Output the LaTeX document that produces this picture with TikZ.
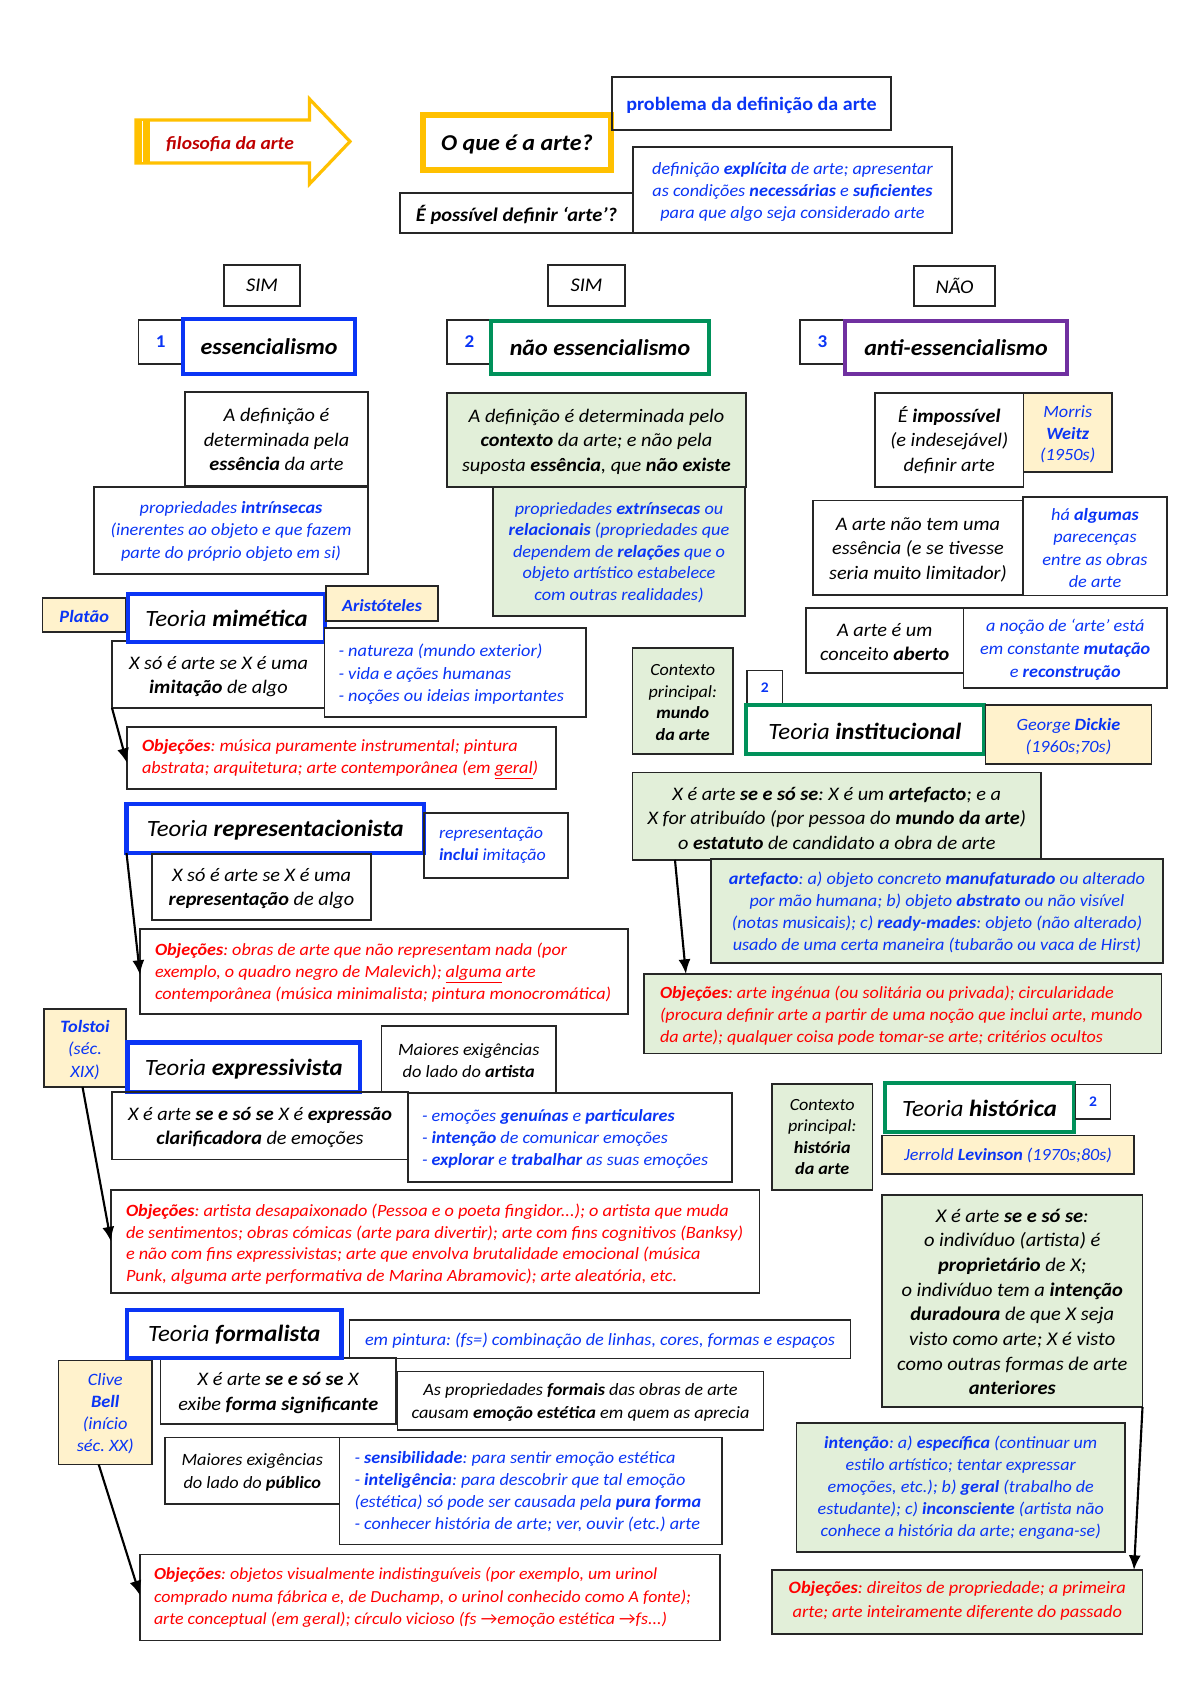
\documentclass[tikz,border=0pt]{standalone}
\usepackage{fontspec}
\setmainfont{Carlito}[FakeStretch=1.06]
\newfontfamily\arrfont{DejaVu Sans}
\usetikzlibrary{arrows.meta,calc}
\definecolor{bl}{HTML}{0A35F5}
\definecolor{rd}{HTML}{FF0000}
\definecolor{gf}{HTML}{E2EFD9}
\definecolor{cf}{HTML}{FFF2CC}
\definecolor{orng}{HTML}{FFC000}
\definecolor{grn}{HTML}{00915A}
\definecolor{purp}{HTML}{7030A0}
\definecolor{ln}{HTML}{262626}
\frenchspacing
\newcommand\bb[1]{\textbf{#1}}
\newcommand\fs[2]{\fontsize{#1}{#2}\selectfont\itshape}
\newcommand\bx[7]{\def\tdyv{1.4}\node[boxs,#6,minimum width={(#4-#2)*0.75pt},minimum height={(#5-#3)*0.75pt}] (#1) at ({(#2+#4)/2},{-(#3+#5)/2}) {};
\node[boxs,#6,draw=none,fill=none,yshift=-\tdyv pt] (#1-t) at (#1.center) {#7};}
\newcommand\bxl[8]{\def\tdyv{1.4}\node[boxs,#6,minimum width={(#4-#2)*0.75pt},minimum height={(#5-#3)*0.75pt}] (#1) at ({(#2+#4)/2},{-(#3+#5)/2}) {};
\node[boxs,#6,draw=none,fill=none,align=left,anchor=west,yshift=-\tdyv pt] (#1-t) at ({#2+#8},{-(#3+#5)/2}) {#7};}
\tikzset{
 x=0.75pt,y=0.75pt,
 tdy/.code={\def\tdyv{#1}},
 boxs/.style={draw=ln,line width=0.9pt,inner sep=0pt,outer sep=0pt,align=center,text=black,font=\fs{14.35}{18.3}},
 gr/.style={fill=gf},
 cr/.style={fill=cf},
 wh/.style={fill=white},
 blt/.style={text=bl},
 rdt/.style={text=rd},
 sm/.style={font=\fs{12.9}{17}},
 sm2/.style={font=\fs{12.9}{16.2}},
 ttl/.style={font=\fs{17.5}{22},fill=white},
 tbl/.style={draw=bl,line width=3.6pt,ttl},
 tgr/.style={draw=grn,line width=3pt,ttl},
 tpr/.style={draw=purp,line width=3.6pt,ttl},
 arr/.style={draw=black,line width=1.6pt,-{Latex[length=11pt,width=9pt]}},
}
\begin{document}
\begin{tikzpicture}
\useasboundingbox (0,0) rectangle (1200,-1698);
% arrow
\draw[orng,line width=2.4pt,line join=miter,fill=white] (136,-120) -- (309.5,-120) -- (309.5,-99) -- (350,-141.5) -- (309.5,-184) -- (309.5,-163) -- (136,-163) -- cycle;
\fill[orng] (135.6,-119) rectangle (150,-164);
\fill[white] (141.5,-121) rectangle (143,-162);
\node[inner sep=0pt,text=red!75!black,font=\fontsize{13.8}{16}\selectfont\bfseries\itshape] (fil) at (230,-144) {filosofia da arte};
% top
\bx{oque}{423}{115}{611}{170}{draw=orng,line width=3.8pt,font=\fs{17}{20}\bfseries}{O que é a arte?}
\bx{prob}{612}{77}{891}{130}{blt,font=\fontsize{14.2}{18}\selectfont\bfseries}{problema da definição da arte}
\bx{poss}{400}{193}{633}{233}{font=\fs{14.5}{18}\bfseries}{É possível definir ‘arte’?}
\bx{defi}{633}{147}{952}{233}{blt,font=\fs{12.9}{16.2}}{definição \bb{explícita} de arte; apresentar\\as condições \bb{necessárias} e \bb{suficientes}\\para que algo seja considerado arte}
\bx{sim1}{224}{265}{300}{306}{tdy=0,font=\fs{14.5}{16}}{SIM}
\bx{sim2}{548}{265}{625}{306}{tdy=0,font=\fs{14.5}{16}}{SIM}
\bx{nao}{914}{266}{995}{306}{tdy=0,font=\fs{14.5}{16}}{NÃO}
\bx{n1}{138.5}{320}{183}{364}{tdy=0,blt,font=\fontsize{13.5}{16}\selectfont\bfseries}{1}
\bx{n2}{447}{320}{492}{364}{tdy=0,blt,font=\fontsize{13.5}{16}\selectfont\bfseries}{2}
\bx{n3}{800}{320}{845}{364}{tdy=0,blt,font=\fontsize{13.5}{16}\selectfont\bfseries}{3}
\bx{ess}{183}{319}{355}{374}{tbl,tdy=0,font=\fs{17}{20}\bfseries}{essencialismo}
\bx{ness}{491}{321}{709}{374}{tgr,tdy=0,font=\fs{17}{20}\bfseries}{não essencialismo}
\bx{anti}{845}{321}{1067}{374}{tpr,tdy=0,font=\fs{17}{20}\bfseries}{anti-essencialismo}
% col 1
\bx{adef}{185}{392}{368}{486}{tdy=0.6}{A definição é\\determinada pela\\\bb{essência} da arte}
\bx{pint}{94}{487}{368}{574}{tdy=0.6,blt,sm}{propriedades \bb{intrínsecas}\\(inerentes ao objeto e que fazem\\parte do próprio objeto em si)}
% col 2
\bx{adef2}{447}{393}{746}{487}{gr}{A definição é determinada pelo\\\bb{contexto} da arte; e não pela\\suposta \bb{essência}, que \bb{não existe}}
\bx{pext}{493}{487}{745}{616}{tdy=0.8,gr,blt,sm2}{propriedades \bb{extrínsecas} ou\\\bb{relacionais} (propriedades que\\dependem de \bb{relações} que o\\objeto artístico estabelece\\com outras realidades)}
% col 3
\bx{imp}{875}{393}{1023.5}{487}{tdy=0}{É \bb{impossível}\\(e indesejável)\\definir arte}
\bx{morris}{1023.5}{393}{1112}{472}{cr,blt,sm2}{Morris\\\bb{Weitz}\\(1950s)}
\bx{nessc}{813}{500.5}{1023}{595}{}{A arte não tem uma\\essência (e se tivesse\\seria muito limitador)}
\bx{algu}{1023}{497}{1167}{595.5}{blt,font=\fs{12.9}{16.9}}{há \bb{algumas}\\parecenças\\entre as obras\\de arte}
\bx{aberto}{806}{608}{963.5}{673}{tdy=1}{A arte é um\\conceito \bb{aberto}}
\bx{nocao}{963.5}{608}{1167}{688}{blt,font=\fs{12.9}{17}}{a noção de ‘arte’ está\\em constante \bb{mutação}\\e \bb{reconstrução}}
% institutional
\bx{ctx1}{632.5}{648}{733}{754}{tdy=1,gr,font=\fs{12.8}{16.2}}{Contexto\\principal:\\\bb{mundo}\\\bb{da arte}}
\bx{ninst}{747}{670.5}{782.5}{705}{tdy=0,blt,font=\fontsize{11}{14}\selectfont\bfseries}{2}
\bx{tinst}{746}{705}{984}{754}{tgr}{Teoria \bb{institucional}}
\bx{dick}{985.5}{705}{1151.5}{764}{cr,blt,sm2}{George \bb{Dickie}\\(1960s;70s)}
\bx{xinst}{632.5}{772.5}{1041}{860}{gr}{X é arte \bb{se e só se}: X é um \bb{artefacto}; e a\\X for atribuído (por pessoa do \bb{mundo da arte})\\o \bb{estatuto} de candidato a obra de arte}
\bx{artf}{711}{859}{1163}{963}{tdy=1.4,gr,blt,font=\fs{12.9}{16.5}}{\bb{artefacto}: a) objeto concreto \bb{manufaturado} ou alterado\\por mão humana; b) objeto \bb{abstrato} ou não visível\\(notas musicais); c) \bb{ready-mades}: objeto (não alterado)\\usado de uma certa maneira (tubarão ou vaca de Hirst)}
\bxl{oinst}{644}{974}{1161.5}{1053.5}{gr,rdt,font=\fs{12.8}{16.8}}{\bb{Objeções}: arte ingénua (ou solitária ou privada); circularidade\\(procura definir arte a partir de uma noção que inclui arte, mundo\\da arte); qualquer coisa pode tomar-se arte; critérios ocultos}{16}
% mimetic
\bx{xmim}{112}{641}{325}{708}{}{X só é arte se X é uma\\\bb{imitação} de algo}
\bx{plat}{42.5}{598}{126}{632}{cr,blt,font=\fs{13}{16}\bfseries}{Platão}
\bx{tmim}{128}{594}{325}{642}{tbl,tdy=0}{Teoria \bb{mimética}}
\bx{arist}{326}{586}{438}{621}{cr,blt,font=\fs{12.8}{16}\bfseries}{Aristóteles}
\bxl{natu}{324.5}{628}{586}{717}{wh,blt,font=\fs{12.95}{17}}{- natureza (mundo exterior)\\- vida e ações humanas\\- noções ou ideias importantes}{14}
\bxl{omim}{127}{727}{556}{789}{tdy=1,rdt,font=\fs{12.9}{16.2}}{\bb{Objeções}: música puramente instrumental; pintura\\abstrata; arquitetura; arte contemporânea (em \underline{geral})}{15}
% representation
\bx{trep}{126.5}{804}{424}{853}{tbl}{Teoria \bb{representacionista}}
\bxl{repr}{424}{813}{568}{878}{tdy=0,blt,font=\fs{12.7}{16.2}}{representação\\\bb{inclui} imitação}{15}
\bx{xrep}{152}{854}{371}{920}{}{X só é arte se X é uma\\\bb{representação} de algo}
\bxl{orep}{140}{929}{628}{1014}{tdy=0.5,rdt,font=\fs{12.85}{16.5}}{\bb{Objeções}: obras de arte que não representam nada (por\\exemplo, o quadro negro de Malevich); \underline{alguma} arte\\contemporânea (música minimalista; pintura monocromática)}{15}
% expressive
\bx{tols}{44}{1009}{126}{1087}{cr,blt,font=\fs{13}{16.8}}{\bb{Tolstoi}\\(séc.\\XIX)}
\bx{texp}{127.5}{1042.5}{360}{1092}{tbl}{Teoria \bb{expressivista}}
\bx{mexp}{381.5}{1026}{556}{1092.5}{tdy=1,font=\fs{12.95}{17}}{Maiores exigências\\do lado do \bb{artista}}
\bx{xexp}{112}{1092}{408}{1159.5}{}{X é arte \bb{se e só se} X é \bb{expressão}\\\bb{clarificadora} de emoções}
\bxl{eexp}{408}{1093}{732}{1182}{tdy=1,wh,blt,font=\fs{12.8}{16.2}}{- emoções \bb{genuínas} e \bb{particulares}\\- \bb{intenção} de comunicar emoções\\- \bb{explorar} e \bb{trabalhar} as suas emoções}{14}
\bxl{oexp}{111}{1190}{759.5}{1293}{tdy=2,rdt,font=\fs{12.9}{16.4}}{\bb{Objeções}: artista desapaixonado (Pessoa e o poeta fingidor...); o artista que muda\\de sentimentos; obras cómicas (arte para divertir); arte com fins cognitivos (Banksy)\\e não com fins expressivistas; arte que envolva brutalidade emocional (música\\Punk, alguma arte performativa de Marina Abramovic); arte aleatória, etc.}{15}
% formal
\bx{pint2}{349.5}{1320}{850.5}{1358.5}{blt,sm}{em pintura: (fs=) combinação de linhas, cores, formas e espaços}
\bx{xfor}{160.5}{1358}{396}{1424}{}{X é arte \bb{se e só se} X\\exibe \bb{forma significante}}
\bx{tfor}{127}{1310}{341.5}{1358}{tbl,tdy=0.5}{Teoria \bb{formalista}}
\bx{cliv}{58.5}{1360.5}{152}{1464.5}{tdy=0.8,cr,blt,font=\fs{13}{16.4}}{Clive\\\bb{Bell}\\(início\\séc. XX)}
\bx{prop}{397.5}{1371.5}{763.5}{1430}{font=\fs{12.95}{17}}{As propriedades \bb{formais} das obras de arte\\causam \bb{emoção estética} em quem as aprecia}
\bx{mpub}{165}{1437.5}{339.5}{1504}{font=\fs{12.95}{17}}{Maiores exigências\\do lado do \bb{público}}
\bxl{sens}{339.5}{1437.5}{722}{1544.5}{tdy=0.4,blt,font=\fs{12.9}{16.7}}{- \bb{sensibilidade}: para sentir emoção estética\\- \bb{inteligência}: para descobrir que tal emoção\\(estética) só pode ser causada pela \bb{pura forma}\\- conhecer história de arte; ver, ouvir (etc.) arte}{15}
\bxl{ofor}{140}{1554.5}{720}{1640.5}{tdy=0,rdt,font=\fs{12.65}{17}}{\bb{Objeções}: objetos visualmente indistinguíveis (por exemplo, um urinol\\comprado numa fábrica e, de Duchamp, o urinol conhecido como A fonte);\\arte conceptual (em geral); círculo vicioso (fs {\arrfont\normalfont\fontsize{13}{12}\selectfont →}emoção estética {\arrfont\normalfont\fontsize{13}{12}\selectfont →}fs...)}{14}
% historic
\bx{ctx2}{772}{1084}{872.5}{1190}{tdy=0,gr,font=\fs{12.8}{16.2}}{Contexto\\principal:\\\bb{história}\\\bb{da arte}}
\bx{thist}{885}{1083}{1074}{1132}{tgr,tdy=0.6}{Teoria \bb{histórica}}
\bx{nhist}{1075.5}{1084.5}{1110.5}{1119}{tdy=0,blt,font=\fontsize{11}{14}\selectfont\bfseries}{2}
\bx{jerr}{882}{1135.5}{1134}{1174}{tdy=0.6,cr,blt,font=\fs{12.8}{16}}{Jerrold \bb{Levinson} (1970s;80s)}
\bx{xhist}{882}{1195}{1142.5}{1407}{tdy=0.6,gr,font=\fs{14.5}{18.5}}{X é arte \bb{se e só se}:\\o indivíduo (artista) é\\\bb{proprietário} de X;\\o indivíduo tem a \bb{intenção}\\\bb{duradoura} de que X seja\\visto como arte; X é visto\\como outras formas de arte\\\bb{anteriores}}
\bx{inte}{796.5}{1423}{1125}{1552}{tdy=0,gr,blt,font=\fs{12.8}{16.6}}{\bb{intenção}: a) \bb{específica} (continuar um\\estilo artístico; tentar expressar\\emoções, etc.); b) \bb{geral} (trabalho de\\estudante); c) \bb{inconsciente} (artista não\\conhece a história da arte; engana-se)}
\bx{ohist}{772}{1570}{1142.5}{1634}{tdy=-1,gr,rdt,font=\fs{13}{17.6}}{\bb{Objeções}: direitos de propriedade; a primeira\\arte; arte inteiramente diferente do passado}
% connectors
\draw[arr] (xmim.south west) -- ($(omim.north west)!0.58!(omim.south west)$);
\draw[arr] (trep.south west) -- ($(orep.north west)!0.54!(orep.south west)$);
\draw[arr] ($(tols.south west)!0.47!(tols.south east)$) -- ($(oexp.north west)!0.5!(oexp.south west)$);
\draw[arr] ($(cliv.south west)!0.43!(cliv.south east)$) -- ($(ofor.north west)!0.475!(ofor.south west)$);
\draw[arr] ($(xinst.south west)!0.104!(xinst.south east)$) -- ($(oinst.north west)!0.081!(oinst.north east)$);
\draw[arr] (xhist.south east) -- ($(ohist.north west)!0.977!(ohist.north east)$);
\end{tikzpicture}
\end{document}
